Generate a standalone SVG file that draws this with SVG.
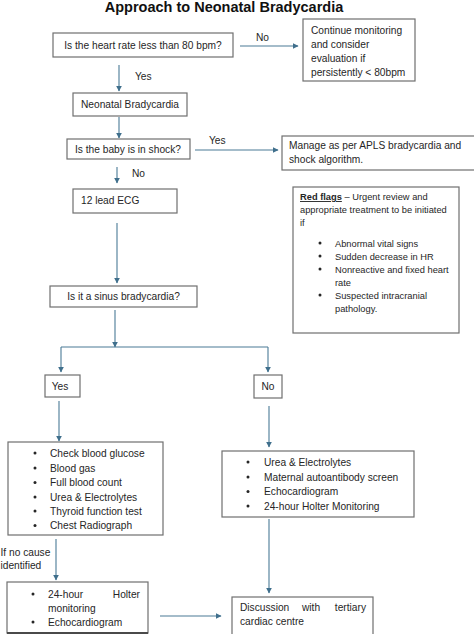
<svg xmlns="http://www.w3.org/2000/svg" width="474" height="634" viewBox="0 0 474 634">
<style>
text{font-family:"Liberation Sans",Arial,sans-serif;font-size:10.2px;fill:#262626}
.title{font-size:14.5px;font-weight:bold;fill:#111}
.rf{font-size:9.3px}
.box{fill:#fff;stroke:#6f6f6f;stroke-width:1.2}
.c{fill:none;stroke:#4a7a96;stroke-width:1.1}
.ca{fill:none;stroke:#4a7a96;stroke-width:1.1;marker-end:url(#ah)}
.b{fill:#262626}
.mid{text-anchor:middle}
</style>
<defs>
<marker id="ah" viewBox="0 0 10 10" refX="9" refY="5" markerWidth="6" markerHeight="6" markerUnits="userSpaceOnUse" orient="auto">
<path d="M0,0 L10,5 L0,10 z" fill="#3f6f8c"/>
</marker>
</defs>
<rect width="474" height="634" fill="#fff"/>
<text class="title mid" x="224" y="11.5">Approach to Neonatal Bradycardia</text>

<g id="connectors">
<line class="ca" x1="240" y1="46" x2="298" y2="46"/>
<text x="256" y="41">No</text>
<line class="ca" x1="119" y1="65" x2="119" y2="91"/>
<text x="135" y="80">Yes</text>
<line class="ca" x1="119" y1="117" x2="119" y2="138"/>
<line class="ca" x1="195" y1="150" x2="278" y2="150"/>
<text x="209" y="144">Yes</text>
<line class="ca" x1="117" y1="167" x2="117" y2="183"/>
<text x="132" y="177">No</text>
<line class="ca" x1="117" y1="223" x2="117" y2="283"/>
<line class="ca" x1="115" y1="310" x2="115" y2="347"/>
<polyline class="c" points="61,347 268,347"/>
<line class="ca" x1="61" y1="347" x2="61" y2="372"/>
<line class="ca" x1="268" y1="347" x2="268" y2="372"/>
<line class="ca" x1="59" y1="401" x2="59" y2="441"/>
<line class="ca" x1="269" y1="406" x2="269" y2="447"/>
<line class="ca" x1="269" y1="519" x2="269" y2="593"/>
<line class="ca" x1="56" y1="539" x2="56" y2="580"/>
<text x="0.5" y="556">If no cause</text>
<text x="0.5" y="569">identified</text>
<line class="ca" x1="160" y1="616" x2="221" y2="616"/>
</g>

<g id="n-hr">
<rect class="box" x="53" y="33" width="180" height="24"/>
<text class="mid" x="143" y="49">Is the heart rate less than 80 bpm?</text>
</g>
<g id="n-continue">
<rect class="box" x="303" y="19" width="112" height="62"/>
<text x="311" y="33.5">Continue monitoring</text>
<text x="311" y="47.5">and consider</text>
<text x="311" y="61.5">evaluation if</text>
<text x="311" y="75.5">persistently &lt; 80bpm</text>
</g>
<g id="n-neonatal">
<rect class="box" x="73" y="93" width="114" height="23"/>
<text class="mid" x="130" y="107.5">Neonatal Bradycardia</text>
</g>
<g id="n-shock">
<rect class="box" x="67" y="139" width="123" height="20"/>
<text x="75" y="152.5">Is the baby is in shock?</text>
</g>
<g id="n-apls">
<rect class="box" x="282" y="136" width="200" height="34"/>
<text x="289" y="149">Manage as per APLS bradycardia and</text>
<text x="289" y="163">shock algorithm.</text>
</g>
<g id="n-ecg">
<rect class="box" x="73" y="189" width="104" height="24"/>
<text x="81" y="204">12 lead ECG</text>
</g>
<g id="n-redflags">
<rect class="box" x="293" y="187" width="166" height="146"/>
<text class="rf" x="300" y="200"><tspan font-weight="bold" text-decoration="underline">Red flags</tspan> – Urgent review and</text>
<text class="rf" x="300" y="213">appropriate treatment to be initiated</text>
<text class="rf" x="300" y="226">if</text>
<circle class="b" cx="320" cy="243" r="1.5"/>
<text class="rf" x="335" y="246.5">Abnormal vital signs</text>
<circle class="b" cx="320" cy="256" r="1.5"/>
<text class="rf" x="335" y="259.5">Sudden decrease in HR</text>
<circle class="b" cx="320" cy="269" r="1.5"/>
<text class="rf" x="335" y="272.5">Nonreactive and fixed heart</text>
<text class="rf" x="335" y="285.5">rate</text>
<circle class="b" cx="320" cy="295" r="1.5"/>
<text class="rf" x="335" y="298.5">Suspected intracranial</text>
<text class="rf" x="335" y="311.5">pathology.</text>
</g>
<g id="n-sinus">
<rect class="box" x="50" y="286" width="147" height="21"/>
<text class="mid" x="123.5" y="300">Is it a sinus bradycardia?</text>
</g>
<g id="n-yes">
<rect class="box" x="45" y="375" width="35" height="22"/>
<text class="mid" x="60" y="390">Yes</text>
</g>
<g id="n-no">
<rect class="box" x="254" y="375" width="28" height="23"/>
<text class="mid" x="268" y="390">No</text>
</g>
<g id="n-yes-tests">
<rect class="box" x="8" y="442" width="155" height="93"/>
<circle class="b" cx="35" cy="453" r="1.5"/>
<text x="50" y="456.5">Check blood glucose</text>
<circle class="b" cx="35" cy="468" r="1.5"/>
<text x="50" y="471.5">Blood gas</text>
<circle class="b" cx="35" cy="482.5" r="1.5"/>
<text x="50" y="486">Full blood count</text>
<circle class="b" cx="35" cy="497" r="1.5"/>
<text x="50" y="500.5">Urea &amp; Electrolytes</text>
<circle class="b" cx="35" cy="511" r="1.5"/>
<text x="50" y="514.5">Thyroid function test</text>
<circle class="b" cx="35" cy="525.5" r="1.5"/>
<text x="50" y="529">Chest Radiograph</text>
</g>
<g id="n-no-tests">
<rect class="box" x="222" y="451" width="192" height="66"/>
<circle class="b" cx="248" cy="462" r="1.5"/>
<text x="264" y="465.5">Urea &amp; Electrolytes</text>
<circle class="b" cx="248" cy="477" r="1.5"/>
<text x="264" y="480.5">Maternal autoantibody screen</text>
<circle class="b" cx="248" cy="491.5" r="1.5"/>
<text x="264" y="495">Echocardiogram</text>
<circle class="b" cx="248" cy="506" r="1.5"/>
<text x="264" y="509.5">24-hour Holter Monitoring</text>
</g>
<g id="n-holter">
<rect class="box" x="7" y="582" width="141" height="51"/>
<line x1="7" y1="633" x2="148" y2="633" stroke="#4a4a4a" stroke-width="2"/>
<circle class="b" cx="33" cy="594" r="1.5"/>
<text x="48" y="597.5">24-hour</text>
<text x="140" y="597.5" text-anchor="end">Holter</text>
<text x="48" y="611.5">monitoring</text>
<circle class="b" cx="33" cy="622" r="1.5"/>
<text x="48" y="625.5">Echocardiogram</text>
</g>
<g id="n-discussion">
<rect class="box" x="232" y="597" width="141" height="50"/>
<text x="240" y="611">Discussion</text>
<text x="302" y="611">with</text>
<text x="366" y="611" text-anchor="end">tertiary</text>
<text x="240" y="624.5">cardiac centre</text>
</g>
</svg>
